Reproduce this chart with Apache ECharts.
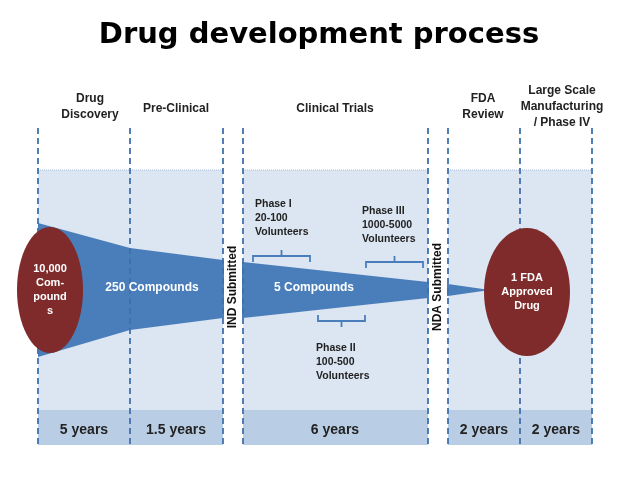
<!DOCTYPE html><html><head><meta charset="utf-8">
<script src="https://cdn.jsdelivr.net/npm/echarts@6/dist/echarts.min.js"></script>
<style>html,body{margin:0;background:#fff}#c{width:638px;height:478px}</style></head><body><div id="c"></div>
<script>
const title = 'Drug development process';
const stageNames = ['Drug\nDiscovery','Pre-Clinical','Clinical Trials','FDA\nReview','Large Scale\nManufacturing\n/ Phase IV'];
const stageNameX = [90,176,335,483,562];
const stageNameY = [107,109,109,107,107];
const durations = ['5 years','1.5 years','6 years','2 years','2 years'];
const durationX = [84,176,335,484,556];
const dividerX = [38,130,223,243,428,448,520,592];
const panelRanges = [[38,223],[243,428],[448,592]];
// funnel profile: x, top y, bottom y
const funnelX =   [38, 130, 223, 243, 428, 448, 490];
const funnelTop = [223,248, 260, 262, 282, 284, 290];
const funnelBot = [357,330, 318, 318, 298, 296, 290];
const milestones = ['IND Submitted','NDA Submitted'];
const milestoneX = [233,438];
const ellipses = [[50,290,33,63,'10,000\nCom-\npound\ns'],[527,292,43,64,'1 FDA\nApproved\nDrug']];
const flowLabels = [['250 Compounds',152,288],['5 Compounds',314,288]];
// label, text x, text top y, brace x1, x2, brace y, direction
const phases = [['Phase I\n20-100\nVolunteers',255,197,253,310,256,-1],
                ['Phase II\n100-500\nVolunteers',316,341,318,365,321,1],
                ['Phase III\n1000-5000\nVolunteers',362,204,366,423,262,-1]];

const chart = echarts.init(document.getElementById('c'));
const blue='#4a7ebb', font='Liberation Sans';
function custom(data, fn, z){return {type:'custom',coordinateSystem:'cartesian2d',data:data,z:z||2,silent:true,renderItem:fn};}
chart.setOption({
  animation:false,
  grid:{left:0,right:0,top:0,bottom:0},
  xAxis:{type:'value',min:0,max:638,show:false},
  yAxis:{type:'value',min:0,max:478,inverse:true,show:false},
  series:[
    custom(panelRanges,(p,api)=>{
      const a=api.coord([api.value(0),170]), b=api.coord([api.value(1),445]), m=api.coord([0,410]);
      return {type:'group',children:[
        {type:'rect',shape:{x:a[0],y:a[1],width:b[0]-a[0],height:m[1]-a[1]},style:{fill:'#dce6f2'}},
        {type:'rect',shape:{x:a[0],y:m[1],width:b[0]-a[0],height:b[1]-m[1]},style:{fill:'#b9cde5'}},
        {type:'line',shape:{x1:a[0],y1:a[1],x2:b[0],y2:a[1]},style:{stroke:'#a8bfdc',lineWidth:1,lineDash:[1,1]}}
      ]};
    },1),
    custom([0],(p,api)=>{
      const pts=[];
      funnelX.forEach((x,i)=>pts.push(api.coord([x,funnelTop[i]])));
      for(let i=funnelX.length-1;i>=0;i--) pts.push(api.coord([funnelX[i],funnelBot[i]]));
      return {type:'polygon',shape:{points:pts},style:{fill:blue}};
    },2),
    custom([0],(p,api)=>{
      const g=[];
      [[223,243],[428,448]].forEach(r=>{const a=api.coord([r[0],170]),b=api.coord([r[1],410]);
        g.push({type:'rect',shape:{x:a[0]+1,y:a[1],width:b[0]-a[0]-2,height:b[1]-a[1]},style:{fill:'#fff'}});});
      return {type:'group',children:g};
    },3),
    custom(dividerX,(p,api)=>{
      const a=api.coord([api.value(0),128]), b=api.coord([api.value(0),447]);
      return {type:'line',shape:{x1:a[0],y1:a[1],x2:b[0],y2:b[1]},style:{stroke:'#3f70ad',lineWidth:1.8,lineDash:[6,4]}};
    },4),
    custom(ellipses.map((e,i)=>[e[0],e[1],e[2],e[3],i]),(p,api)=>{
      const e=ellipses[p.dataIndex], c=api.coord([e[0],e[1]]);
      return {type:'group',children:[
        {type:'ellipse',shape:{cx:c[0],cy:c[1],rx:e[2],ry:e[3]},style:{fill:'#7f2b2b'}},
        {type:'text',x:c[0],y:c[1],style:{text:e[4],fill:'#fff',font:'bold 11px '+font,align:'center',verticalAlign:'middle',lineHeight:14}}
      ]};
    },5),
    custom(phases.map((ph,i)=>[i]),(p,api)=>{
      const ph=phases[p.dataIndex], t=api.coord([ph[1],ph[2]]);
      const a=api.coord([ph[3],ph[5]]), b=api.coord([ph[4],ph[5]]), d=ph[6], h=6, mid=(a[0]+b[0])/2;
      const path=`M${a[0]} ${a[1]-d*h} L${a[0]} ${a[1]} L${b[0]} ${b[1]} L${b[0]} ${b[1]-d*h} M${mid} ${a[1]} L${mid} ${a[1]+d*h}`;
      return {type:'group',children:[
        {type:'path',shape:{pathData:path},style:{stroke:blue,lineWidth:1.8,fill:null}},
        {type:'text',x:t[0],y:t[1],style:{text:ph[0],fill:'#222',font:'bold 10.5px '+font,align:'left',verticalAlign:'top',lineHeight:14}}
      ]};
    },6),
    custom(flowLabels.map((f,i)=>[i]),(p,api)=>{
      const f=flowLabels[p.dataIndex], c=api.coord([f[1],f[2]]);
      return {type:'text',x:c[0],y:c[1],style:{text:f[0],fill:'#fff',font:'bold 12px '+font,align:'center',verticalAlign:'middle'}};
    },6),
    custom(milestones.map((m,i)=>[i]),(p,api)=>{
      const c=api.coord([milestoneX[p.dataIndex],287]);
      return {type:'text',x:c[0],y:c[1],rotation:Math.PI/2,style:{text:milestones[p.dataIndex],fill:'#111',font:'bold 12px '+font,align:'center',verticalAlign:'middle'}};
    },6),
    custom(stageNames.map((s,i)=>[i]),(p,api)=>{
      const i=p.dataIndex, c=api.coord([stageNameX[i],stageNameY[i]]);
      return {type:'text',x:c[0],y:c[1],style:{text:stageNames[i],fill:'#222',font:'bold 12px '+font,align:'center',verticalAlign:'middle',lineHeight:16}};
    },6),
    custom(durations.map((s,i)=>[i]),(p,api)=>{
      const i=p.dataIndex, c=api.coord([durationX[i],430]);
      return {type:'text',x:c[0],y:c[1],style:{text:durations[i],fill:'#222',font:'bold 14px '+font,align:'center',verticalAlign:'middle'}};
    },6),
    custom([0],(p,api)=>{
      const c=api.coord([319,35]);
      return {type:'text',x:c[0],y:c[1],style:{text:title,fill:'#000',font:'bold 29px "DejaVu Sans"',align:'center',verticalAlign:'middle'}};
    },6)
  ]
});
</script></body></html>
